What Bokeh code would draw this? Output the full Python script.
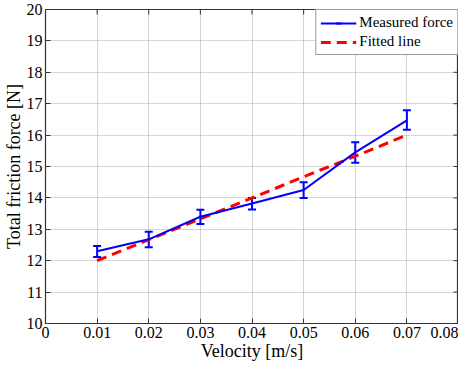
import numpy as np
from bokeh.plotting import figure
from bokeh.models import (ColumnDataSource, Whisker, TeeHead, FixedTicker,
                          Legend, LegendItem, Range1d)
from bokeh.embed import file_html
from bokeh.resources import INLINE

velocity = [0.01, 0.02, 0.03, 0.04, 0.05, 0.06, 0.07]
measured = [12.30, 12.68, 13.40, 13.82, 14.25, 15.45, 16.47]
err_low = [12.12, 12.43, 13.17, 13.63, 14.00, 15.12, 16.17]
err_high = [12.47, 12.92, 13.62, 14.00, 14.50, 15.77, 16.79]
fitted = [12.00, 12.67, 13.33, 14.00, 14.67, 15.33, 16.00]

x_ticks = [0, 0.01, 0.02, 0.03, 0.04, 0.05, 0.06, 0.07, 0.08]
x_labels = ["0", "0.01", "0.02", "0.03", "0.04", "0.05", "0.06", "0.07", "0.08"]
y_ticks = [10, 11, 12, 13, 14, 15, 16, 17, 18, 19, 20]

FONT = "Times New Roman"
BLUE = "#0000ff"
RED = "#ff0000"
DARK = "#333333"

src = ColumnDataSource(dict(x=velocity, y=measured, lo=err_low, hi=err_high, fit=fitted))

p = figure(width=458, height=363, output_backend="svg", toolbar_location=None,
           x_range=Range1d(0, 0.08), y_range=Range1d(10, 20),
           min_border_left=30, min_border_right=0, min_border_top=9, min_border_bottom=36)
p.background_fill_color = "white"
p.border_fill_color = "white"
p.outline_line_color = DARK
p.outline_line_width = 1.2

# grid
for g in (p.xgrid, p.ygrid):
    g.grid_line_color = "#aaaaaa"
    g.grid_line_dash = "1 1"
    g.grid_line_width = 1
p.xgrid.ticker = FixedTicker(ticks=x_ticks)
p.ygrid.ticker = FixedTicker(ticks=y_ticks)

# axes
xa = p.xaxis[0]
ya = p.yaxis[0]
xa.ticker = FixedTicker(ticks=x_ticks)
ya.ticker = FixedTicker(ticks=y_ticks)
xa.major_label_overrides = {t: l for t, l in zip(x_ticks, x_labels)}
xa.axis_label = "Velocity [m/s]"
ya.axis_label = "Total friction force [N]"
for ax in (xa, ya):
    ax.major_label_text_font = FONT
    ax.major_label_text_font_size = "16px"
    ax.major_label_text_color = "black"
    ax.axis_label_text_font = FONT
    ax.axis_label_text_font_size = "18px"
    ax.axis_label_text_font_style = "normal"
    ax.axis_label_text_color = "black"
    ax.major_tick_in = 5
    ax.major_tick_out = 0
    ax.minor_tick_line_color = None
    ax.axis_line_color = None
    ax.major_tick_line_color = DARK
xa.major_label_standoff = 3
xa.axis_label_standoff = 0
ya.major_label_standoff = 3
ya.axis_label_standoff = 0

# inward ticks on the right and top edges of the box (clipped to the frame)
p.scatter(x=[x_ticks[-1]] * len(y_ticks), y=y_ticks, marker="dash", size=10,
          line_color=DARK, line_width=1)
p.scatter(x=x_ticks, y=[y_ticks[-1]] * len(x_ticks), marker="dash", angle=np.pi / 2,
          size=10, line_color=DARK, line_width=1)

# fitted line
fit_r = p.line("x", "fit", source=src, line_color=RED, line_width=3, line_dash="10 6")

# measured with error bars
meas_r = p.line("x", "y", source=src, line_color=BLUE, line_width=2)
wh = Whisker(base="x", lower="lo", upper="hi", source=src, line_color=BLUE, line_width=2,
             upper_head=TeeHead(size=8, line_color=BLUE, line_width=2),
             lower_head=TeeHead(size=8, line_color=BLUE, line_width=2))
p.add_layout(wh)

# legend marker for error bar symbol
mark_r = p.scatter(x=[np.nan], y=[np.nan], marker="dash", angle=np.pi / 2, size=14,
                   line_color=BLUE, line_width=2)

legend = Legend(items=[LegendItem(label="Measured force", renderers=[meas_r, mark_r]),
                       LegendItem(label="Fitted line", renderers=[fit_r])],
                location="top_right")
legend.margin = 0
legend.padding = 4
legend.spacing = 2
legend.glyph_width = 36
legend.glyph_height = 16
legend.label_standoff = 3
legend.label_text_font = FONT
legend.label_text_font_size = "15px"
legend.label_text_color = "black"
legend.border_line_color = DARK
legend.border_line_width = 1
legend.background_fill_alpha = 1
p.add_layout(legend)

open("out.html", "w").write(file_html(p, INLINE))
